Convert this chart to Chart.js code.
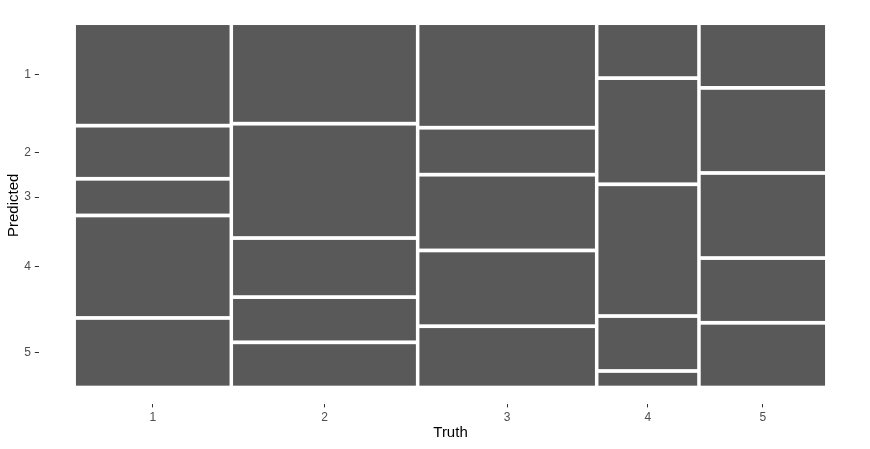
<!DOCTYPE html>
<html>
<head>
  <meta charset="UTF-8">
  <title>Mosaic: Truth vs Predicted</title>
  <script src="https://cdn.jsdelivr.net/npm/chart.js"></script>
  <style>
    body { margin: 0; background: #fff; }
    #wrap { width: 870px; height: 449px; }
  </style>
</head>
<body>
  <div id="wrap"><canvas id="myChart"></canvas></div>
  <script>
    // counts of Predicted class (1..5) for each Truth class
    const truthLabels = ["1", "2", "3", "4", "5"];
    const predictedLabels = ["1", "2", "3", "4", "5"];
    const truth1 = [12, 6, 4, 12, 8];
    const truth2 = [14, 16, 8, 6, 6];
    const truth3 = [14, 6, 10, 10, 8];
    const truth4 = [4, 8, 10, 4, 1];
    const truth5 = [6, 8, 8, 6, 6];
    const columns = [truth1, truth2, truth3, truth4, truth5];

    const gapX = 0.0047, gapY = 0.0104;
    const sum = a => a.reduce((s, v) => s + v, 0);
    const total = sum(columns.map(sum));

    // build tiles in 0..1 units
    const tiles = [];
    const xCenters = [];
    let x0 = 0;
    const usableX = 1 - gapX * (columns.length - 1);
    columns.forEach(col => {
      const colTotal = sum(col);
      const w = colTotal / total * usableX;
      xCenters.push(x0 + w / 2);
      let y0 = 0;
      const usableY = 1 - gapY * (col.length - 1);
      col.forEach(n => {
        const h = n / colTotal * usableY;
        tiles.push({ x0: x0, x1: x0 + w, y0: y0, y1: y0 + h });
        y0 += h + gapY;
      });
      x0 += w + gapX;
    });
    // y ticks follow the first column, as ggmosaic does
    const yCenters = tiles.slice(0, truth1.length).map(t => (t.y0 + t.y1) / 2);

    const mosaicPlugin = {
      id: "mosaic",
      beforeDatasetsDraw(chart) {
        const { ctx, scales: { x, y } } = chart;
        ctx.save();
        ctx.fillStyle = "#595959";
        tiles.forEach(t => {
          const px0 = x.getPixelForValue(t.x0), px1 = x.getPixelForValue(t.x1);
          const py0 = y.getPixelForValue(t.y0), py1 = y.getPixelForValue(t.y1);
          ctx.fillRect(px0, py0, px1 - px0, py1 - py0);
        });
        ctx.restore();
      }
    };

    const tickFont = { family: "Liberation Sans, Arial, sans-serif", size: 12 };
    const titleFont = { family: "Liberation Sans, Arial, sans-serif", size: 15 };

    new Chart(document.getElementById("myChart"), {
      type: "scatter",
      data: { datasets: [{ data: [] }] },
      plugins: [mosaicPlugin],
      options: {
        responsive: true,
        maintainAspectRatio: false,
        animation: false,
        layout: { padding: { top: 7, right: 7.5, left: 0, bottom: 0 } },
        plugins: { legend: { display: false }, tooltip: { enabled: false } },
        scales: {
          x: {
            type: "linear",
            min: -0.05, max: 1.05,
            afterBuildTicks: s => { s.ticks = xCenters.map(v => ({ value: v })); },
            afterFit: s => { s.height = 45.3; s.paddingLeft = 0; s.paddingRight = 0; },
            ticks: { autoSkip: false, maxRotation: 0, padding: 3, color: "#4d4d4d", font: tickFont,
                     callback: (v, i) => truthLabels[i] },
            grid: { drawOnChartArea: false, tickLength: 3.7, tickColor: "#333333" },
            border: { display: false },
            title: { display: true, text: "Truth", color: "#000", font: titleFont, padding: { top: 0, bottom: 7 } }
          },
          y: {
            type: "linear",
            reverse: true,
            min: -0.05, max: 1.05,
            afterBuildTicks: s => { s.ticks = yCenters.map(v => ({ value: v })); },
            afterFit: s => { s.width = 38.5; s.paddingTop = 0; s.paddingBottom = 0; },
            ticks: { autoSkip: false, padding: 4, color: "#4d4d4d", font: tickFont,
                     callback: (v, i) => predictedLabels[i] },
            grid: { drawOnChartArea: false, tickLength: 3.7, tickColor: "#333333" },
            border: { display: false },
            title: { display: true, text: "Predicted", color: "#000", font: titleFont, padding: { top: 5, bottom: 0 } }
          }
        }
      }
    });
  </script>
</body>
</html>
